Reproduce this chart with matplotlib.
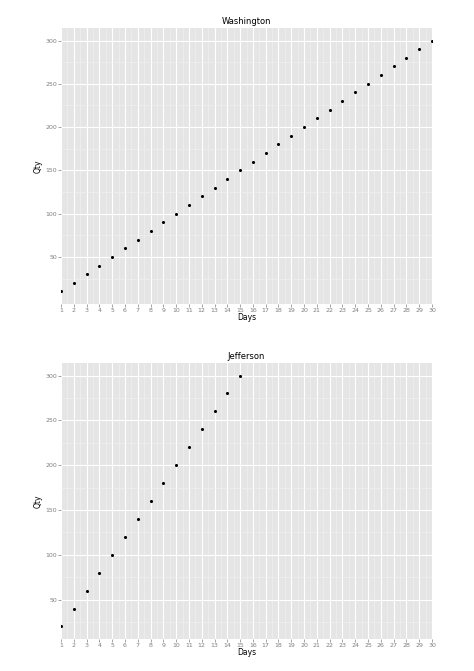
import matplotlib
matplotlib.use("Agg")
import matplotlib.pyplot as plt
import numpy as np

wash_days = list(range(1, 31))
wash_qty = [10, 20, 30, 40, 50, 60, 70, 80, 90, 100, 110, 120, 130, 140, 150,
            160, 170, 180, 190, 200, 210, 220, 230, 240, 250, 260, 270, 280, 290, 300]
jeff_days = list(range(1, 16))
jeff_qty = [20, 40, 60, 80, 100, 120, 140, 160, 180, 200, 220, 240, 260, 280, 300]
x_ticks = list(range(1, 31))
y_ticks = [50, 100, 150, 200, 250, 300]

panels = [("Washington", wash_days, wash_qty, [0.1287, 0.5469, 0.7827, 0.4114]),
          ("Jefferson", jeff_days, jeff_qty, [0.1287, 0.0477, 0.7827, 0.4113])]

fig = plt.figure(figsize=(4.74, 6.71), dpi=100)
fig.patch.set_facecolor("white")

for title, xs, ys, rect in panels:
    ax = fig.add_axes(rect)
    ax.set_facecolor("#E5E5E5")
    ax.scatter(xs, ys, s=5, color="black", zorder=3, linewidths=0)
    ymin, ymax = min(ys), max(ys)
    pad = 0.05 * (ymax - ymin)
    ax.set_ylim(ymin - pad, ymax + pad)
    ax.set_xlim(1, 30)
    ax.set_xticks(x_ticks)
    ax.set_xticks([t + 0.5 for t in x_ticks[:-1]], minor=True)
    ax.set_yticks(y_ticks)
    ax.set_yticks([25, 75, 125, 175, 225, 275], minor=True)
    ax.grid(which="major", color="white", linewidth=0.8, zorder=0)
    ax.grid(which="minor", color="#F2F2F2", linewidth=0.4, zorder=0)
    ax.set_axisbelow(True)
    for sp in ax.spines.values():
        sp.set_visible(False)
    ax.tick_params(which="major", length=2, width=0.5, color="#7F7F7F",
                   labelsize=4.5, labelcolor="#7F7F7F", pad=1)
    ax.tick_params(which="minor", length=0)
    ax.set_title(title, fontsize=6, pad=3, color="black")
    ax.set_xlabel("Days", fontsize=5.5, labelpad=0)
    ax.set_ylabel("Qty", fontsize=5.5, labelpad=2)

fig.savefig("out.png", dpi=100)
